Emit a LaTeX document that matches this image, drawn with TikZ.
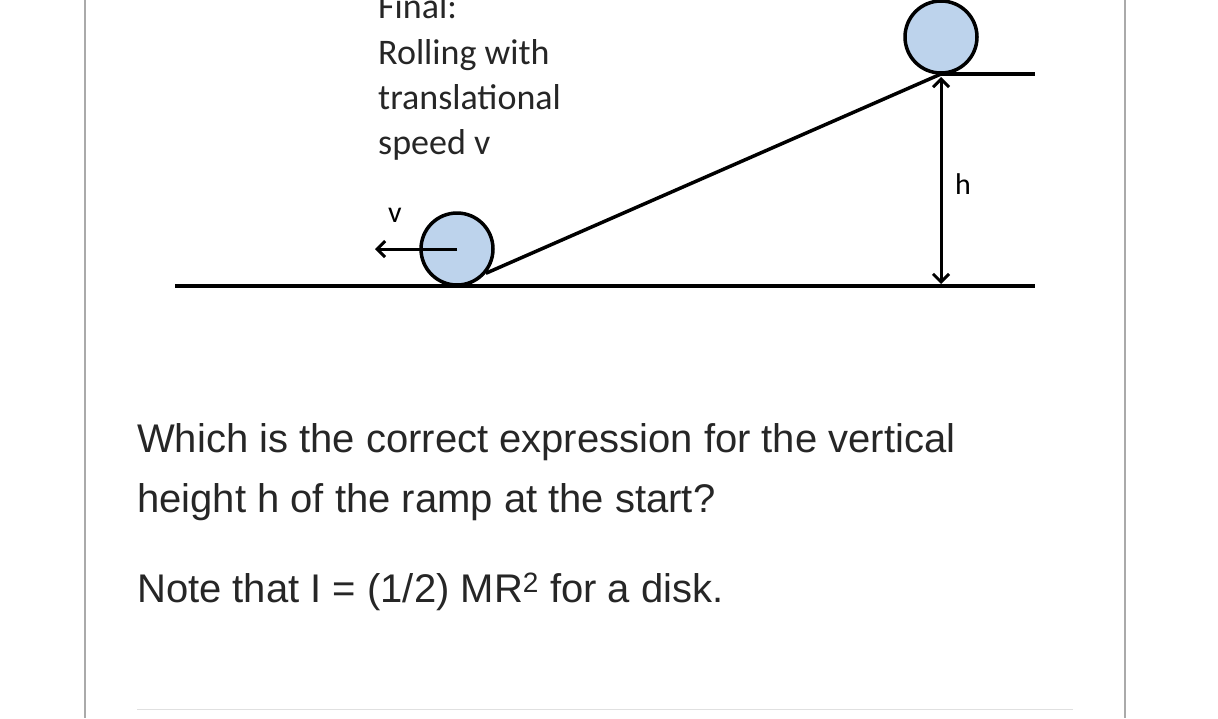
\documentclass[tikz,border=0pt]{standalone}
\usepackage{fontspec}
\usetikzlibrary{arrows.meta}
\setmainfont{Liberation Sans}
\newfontfamily\calfont{Carlito}
\definecolor{disk}{RGB}{189,211,236}
\definecolor{frame}{RGB}{170,170,170}
\begin{document}
\begin{tikzpicture}[x=1pt,y=-1pt,
  line/.style={line width=3.5pt},
  diskc/.style={circle,draw,line width=3.5pt,fill=disk,minimum size=72pt,inner sep=0pt},
  lbl/.style={font=\calfont\fontsize{30}{36}\selectfont,inner sep=0pt,anchor=base west},
  ttl/.style={font=\calfont\fontsize{36}{45}\selectfont,inner sep=0pt,anchor=base west,text=black!85},
  qtext/.style={font=\fontsize{40}{48}\selectfont,inner sep=0pt,anchor=base west,text=black!85}]
\useasboundingbox (0,0) rectangle (1218,718);
\draw[frame,line width=1.5pt] (85,0) -- (85,718);
\draw[frame,line width=1.5pt] (1125,0) -- (1125,718);
\draw[black!12,line width=1pt] (137,709) -- (1073,709);
\coordinate (g1) at (175,286); \coordinate (g2) at (1035,286);
\coordinate (p1) at (941,74); \coordinate (p2) at (1035,74);
\draw[line] (g1) -- (g2);
\draw[line] (p1) -- (p2);
\node[diskc] (small) at (457,249) {};
\node[diskc] (big) at (941,37) {};
\draw[line] (small.-40) -- (p1);
\coordinate (hb) at (941,284);
\coordinate (ht) at (941,77);
\draw[line width=3pt,{Straight Barb[length=8pt,width=16pt]}-{Straight Barb[length=8pt,width=16pt]}] (ht) -- (hb);
\node[lbl] (h) at (955,194) {h};
\coordinate (vend) at (375,249);
\draw[line width=3pt,-{Straight Barb[length=8pt,width=16pt]}] (small.center) -- (vend);
\node[lbl] (v) at (388,222) {v};
\node[ttl] (t1) at (378,18) {Final:};
\node[ttl] (t2) at (378,64) {Rolling with};
\node[ttl] (t3) at (378,109) {translational};
\node[ttl] (t4) at (378,154) {speed v};
\node[qtext] (q1) at (137,452) {Which is the correct expression for the vertical};
\node[qtext] (q2) at (137,512) {height h of the ramp at the start?};
\node[qtext] (q3) at (137,602) {Note that I = (1/2) MR\textsuperscript{2} for a disk.};
\end{tikzpicture}
\end{document}
